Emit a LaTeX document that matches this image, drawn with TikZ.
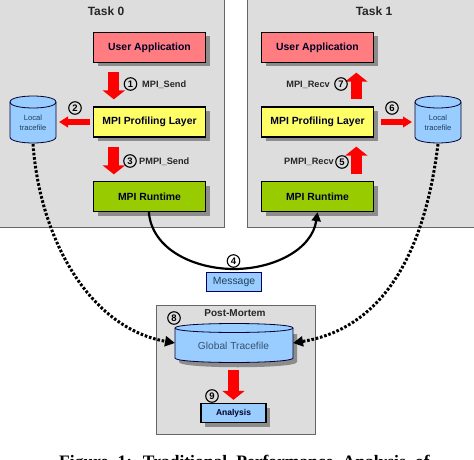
\documentclass[tikz,border=0pt]{standalone}
\usepackage{fontspec}
\setmainfont{Liberation Sans}
\newfontfamily\capfont[WordSpace=2.1]{Liberation Serif}
\usetikzlibrary{arrows.meta,shapes.geometric,calc}
\definecolor{panelgray}{HTML}{DDDDDD}
\definecolor{pinkbox}{HTML}{FF7C80}
\definecolor{yellowbox}{HTML}{FFFF66}
\definecolor{greenbox}{HTML}{99CC00}
\definecolor{bluebox}{HTML}{99CCFF}
\definecolor{txtblue}{HTML}{1F3F5F}
\tikzset{
  x=1pt,y=-1pt,
  panel/.style={draw=black!60,fill=panelgray,line width=0.8pt},
  layerbox/.style={draw=black,line width=1.3pt,minimum width=112pt,minimum height=30pt,inner sep=0pt,
    font=\fontsize{10.4}{11}\selectfont\bfseries,text=black!85!blue,
    preaction={draw=none,fill=black!45,transform canvas={xshift=4pt,yshift=-4pt}}},
  bigred/.style={red,line width=11pt,-{Triangle[width=22pt,length=9pt]}},
  smallred/.style={red,line width=5.5pt,-{Triangle[width=10.5pt,length=9pt]}},
  num/.style={circle,draw=black,line width=1.1pt,inner sep=0pt,minimum size=12.5pt,font=\fontsize{9.5}{9.5}\selectfont\bfseries},
  lab/.style={inner sep=0pt,font=\fontsize{9.2}{10}\selectfont\bfseries,text=black!85},
  title/.style={inner sep=0pt,font=\fontsize{12}{13}\selectfont\bfseries,text=black!85},
  dotline/.style={line width=3pt,dash pattern=on 2.6pt off 1.8pt,black,-{Triangle[width=10pt,length=10pt]}},
  wire/.style={line width=2.2pt,black,-{Triangle[width=9pt,length=9pt]}},
  drumtext/.style={inner sep=0pt,align=center,text=txtblue,font=\fontsize{7.6}{11}\selectfont},
}
\newcommand{\drum}[5]{% x1 y1 x2 y2 ellipse-ry
  \def\lx{#1}\def\ly{#2}\def\rx{#3}\def\ry{#4}\def\er{#5}
  \fill[bluebox,draw=black!80!blue,line width=0.8pt]
    (\lx,\ly) -- (\lx,\ry) .. controls (\lx,{\ry+1.33*\er}) and (\rx,{\ry+1.33*\er}) .. (\rx,\ry)
    -- (\rx,\ly) .. controls (\rx,{\ly-1.33*\er}) and (\lx,{\ly-1.33*\er}) .. (\lx,\ly) -- cycle;
  \draw[black!80!blue,line width=0.8pt] (\lx,\ly) .. controls (\lx,{\ly+1.33*\er}) and (\rx,{\ly+1.33*\er}) .. (\rx,\ly);
}
\begin{document}
\begin{tikzpicture}
\useasboundingbox (0,0) rectangle (474,460);
\fill[white] (0,0) rectangle (474,460);
% panels
\draw[panel] (-3,-3) rectangle (224,227);
\draw[panel] (247,-3) rectangle (477,227);
\draw[panel] (156,305) rectangle (315,434);
\node[title] (t0) at (106,11) {Task 0};
\node[title] (t1) at (374,11) {Task 1};
\node[title,font=\fontsize{10}{11}\selectfont\bfseries] (t2) at (235,313) {Post-Mortem};
% boxes task 0
\node[layerbox,fill=pinkbox] (ua0) at (149.5,47.5) {User Application};
\node[layerbox,fill=yellowbox] (pr0) at (149.5,122) {MPI Profiling Layer};
\node[layerbox,fill=greenbox] (rt0) at (149.5,196.5) {MPI Runtime};
% boxes task 1
\node[layerbox,fill=pinkbox] (ua1) at (317.5,47.5) {User Application};
\node[layerbox,fill=yellowbox] (pr1) at (317.5,122) {MPI Profiling Layer};
\node[layerbox,fill=greenbox] (rt1) at (317.5,196.5) {MPI Runtime};
% local tracefiles
\drum{10}{102}{56}{137}{6}
\node[drumtext] (lt0) at (33,123) {Local\\[-1pt]tracefile};
\drum{415}{102}{461}{137}{6}
\node[drumtext] (lt1) at (438,123) {Local\\[-1pt]tracefile};
% global tracefile
\fill[black!45] (179,334) -- (179,362) .. controls (179,369) and (297,369) .. (297,362) -- (297,334) -- cycle;
\drum{175}{328}{293}{358}{4.5}
\node[inner sep=0pt,text=txtblue!90,font=\fontsize{10.2}{12}\selectfont] (gt) at (233.5,346) {Global Tracefile};
% analysis and message
\node[layerbox,fill=bluebox,minimum width=65pt,minimum height=19pt,font=\fontsize{8.5}{9}\selectfont\bfseries] (an) at (233.5,413) {Analysis};
\node[draw=black!60!blue,line width=0.7pt,fill=bluebox,minimum width=55pt,minimum height=19pt,inner sep=0pt,text=txtblue,font=\fontsize{10.4}{11}\selectfont] (ms) at (234,282) {Message};
% anchors for connectors
\coordinate (p1a) at ([xshift=21pt]ua0.south west);
\coordinate (p1b) at ([xshift=21pt]pr0.north west);
\coordinate (p3a) at ([xshift=21pt]pr0.south west);
\coordinate (p3b) at ([xshift=21pt]rt0.north west);
\coordinate (p5a) at ([xshift=95.5pt]rt1.north west);
\coordinate (p5b) at ([xshift=95.5pt]pr1.south west);
\coordinate (p7a) at ([xshift=95.5pt]pr1.north west);
\coordinate (p7b) at ([xshift=95.5pt]ua1.south west);
\coordinate (s0) at (56,122);
\coordinate (s1) at (415,122);
\coordinate (gb) at (233.5,363);
% block arrows
\draw[bigred,shorten <=9pt,shorten >=7pt] (p1a) -- (p1b);
\draw[bigred,shorten <=9pt,shorten >=6.5pt] (p3a) -- (p3b);
\draw[smallred,shorten <=2.5pt,shorten >=3pt] (pr0.west) -- (s0);
\draw[bigred,shorten <=6.5pt,shorten >=9pt] (p5a) -- (p5b);
\draw[bigred,shorten <=7pt,shorten >=9.5pt] (p7a) -- (p7b);
\draw[smallred,shorten <=6.5pt,shorten >=3pt] (pr1.east) -- (s1);
\draw[bigred,shorten <=7pt,shorten >=3pt] (gb) -- (an.north);
% numbered labels
\node[num] (n1) at (130.5,84) {1};
\node[lab,anchor=west] (l1) at (142,85) {MPI\_Send};
\node[num] (n2) at (75,108) {2};
\node[num] (n3) at (130,161) {3};
\node[lab,anchor=west] (l3) at (139,162) {PMPI\_Send};
\node[num] (n4) at (233.5,261) {4};
\node[num] (n5) at (342,162) {5};
\node[lab,anchor=east] (l5) at (334,162) {PMPI\_Recv};
\node[num] (n6) at (392,108) {6};
\node[num] (n7) at (341,84) {7};
\node[lab,anchor=east] (l7) at (330,85) {MPI\_Recv};
\node[num] (n8) at (174,318) {8};
\node[num] (n9) at (212,396) {9};
% message curve
\coordinate (wirelow) at (234,269);
\coordinate (wa) at ([xshift=56pt]rt0.south west);
\draw[line width=2.2pt,black] (wa) .. controls (152,250) and (195,269) .. (wirelow);
\draw[wire] (wirelow) .. controls (273,269) and (312,250) .. (rt1.south);
% dotted curves
\coordinate (lb0) at (33,144);
\coordinate (lb1) at (438,144);
\coordinate (gl) at (175,343);
\coordinate (gr) at (293,343);
\draw[dotline] (lb0) .. controls (40,240) and (90,328) .. (gl);
\draw[dotline] (lb1) .. controls (425,250) and (385,328) .. (gr);
% caption
\node[anchor=base west,inner sep=0pt,font=\capfont\fontsize{17.5}{20}\selectfont\bfseries] (cap) at (59,467) {Figure 1: Traditional Performance Analysis of};
\end{tikzpicture}
\end{document}
